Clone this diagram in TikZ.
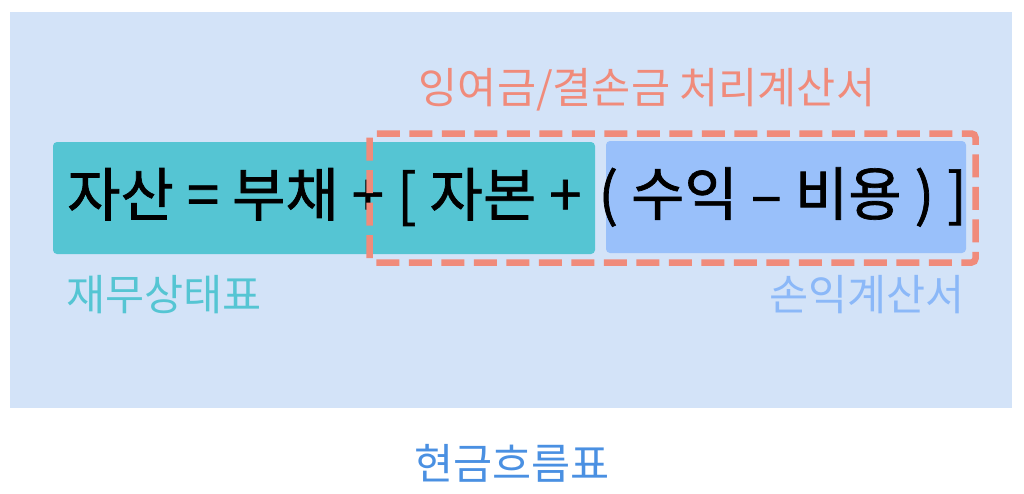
\documentclass[tikz,border=0pt]{standalone}
\usepackage{fontspec}
\setmainfont{Noto Sans CJK KR}
\newfontfamily\eqfont[FakeBold=1.2]{Noto Sans CJK KR}
\usetikzlibrary{positioning}

\definecolor{bgblue}{HTML}{D3E3F8}
\definecolor{fsteal}{HTML}{55C5D3}
\definecolor{isblue}{HTML}{99C0FA}
\definecolor{resalmon}{HTML}{F08B7B}
\definecolor{cfblue}{HTML}{4A90E2}
\definecolor{islabel}{HTML}{8BB8F8}

\begin{document}
\begin{tikzpicture}[x=1pt, y=-1pt,
    panel/.style={rounded corners=4pt, inner sep=0pt},
    eqtext/.style={inner sep=0pt, font=\eqfont\fontsize{58}{62}\selectfont},
    label/.style={inner sep=0pt, font=\fontsize{42.5}{46}\selectfont}]
    \useasboundingbox (0, 0) rectangle (1024, 493);
    
    \fill[bgblue] (10, 12) rectangle (1012, 408);
    
    \node[panel, fill=fsteal, minimum width=542pt, minimum height=112pt] (fs) at (324, 198) {};
    \node[panel, fill=isblue, minimum width=360pt, minimum height=112pt] (is) at (786, 197) {};
    
    \node[eqtext, anchor=west] (left) at (67, 197) {자산 = 부채 + [ 자본 +};
    \node[eqtext, anchor=east] (right) at (967, 197) {( 수익 – 비용 ) ]};
    
    \draw[resalmon, line width=6.5pt, rounded corners=4pt, dash pattern=on 23pt off 9.5pt]
      (369.5, 133.5) rectangle (975.5, 262.5);
    
    \node[label, text=resalmon] (re) at (647, 90) {잉여금/결손금 처리계산서};
    \node[label, text=fsteal, anchor=west] (fslabel) at (66, 295) {재무상태표};
    \node[label, text=islabel, anchor=east] (islab) at (965, 295) {손익계산서};
    \node[label, text=cfblue] (cf) at (512, 463) {현금흐름표};
\end{tikzpicture}
\end{document}
